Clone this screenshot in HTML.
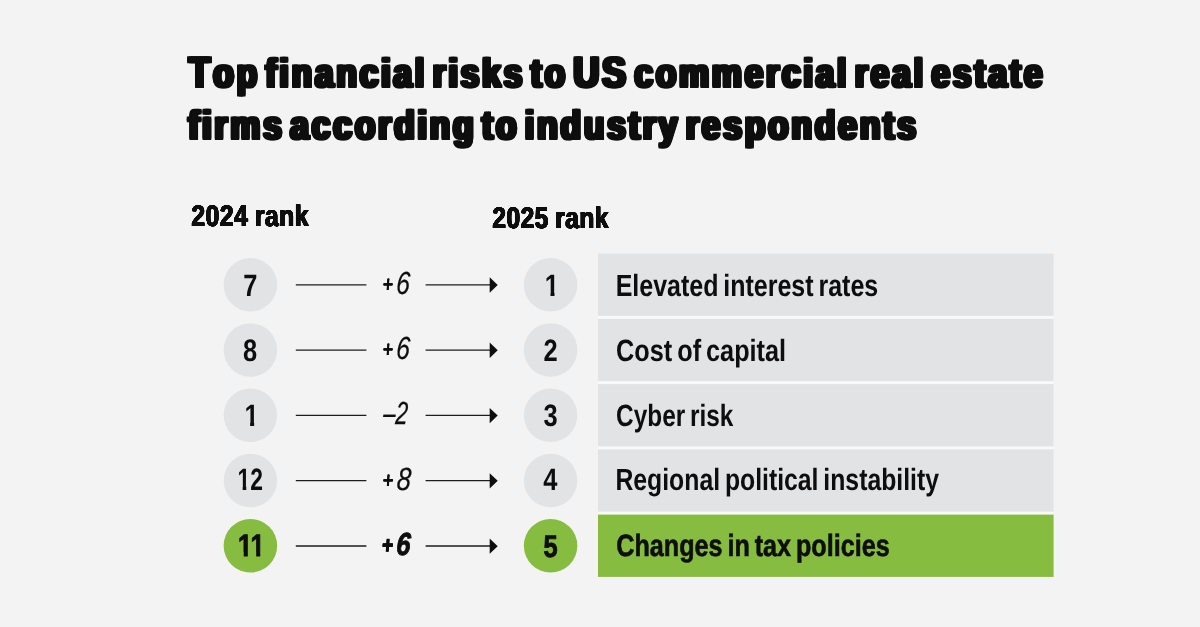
<!DOCTYPE html><html lang="en"><head><meta charset="utf-8"><title>Top financial risks to US commercial real estate firms</title><style>
html,body{margin:0;padding:0;}
body{width:1200px;height:627px;background:#f3f3f3;position:relative;overflow:hidden;font-family:"Liberation Sans",sans-serif;color:#0e0e0e;}
svg{position:absolute;left:0;top:0;}
.t{text-rendering:geometricPrecision;position:absolute;left:0;top:0;white-space:nowrap;line-height:1;transform-origin:0 0;display:block;}
.one{display:inline-block;clip-path:polygon(0 0,100% 0,100% .7em,.381em .7em,.381em 100%,.223em 100%,.223em .7em,0 .7em);}
.cp{font-size:1.065em;}
.pl{display:inline-block;position:relative;text-shadow:.4px 0 0 #111,-.4px 0 0 #111,0 .3px 0 #111,0 -.3px 0 #111;font-size:0.72em;top:-0.085em;margin-right:0.2em;}
.mn{display:inline-block;position:relative;margin-right:0.0em;}
</style></head><body>
<svg width="1200" height="627" viewBox="0 0 1200 627">
<rect x="598.0" y="263.6" width="455.60" height="303.30" fill="#f9f9f9"/>
<rect x="598.0" y="253.60" width="455.60" height="62.3" fill="#e2e3e5"/>
<circle cx="250.4" cy="284.70" r="26.75" fill="#e2e3e5"/>
<circle cx="550.6" cy="284.70" r="26.75" fill="#e2e3e5"/>
<path d="M295.8 284.85H366.4M425.6 284.85H490.7" stroke="#1e1e1e" stroke-width="1.4" fill="none"/>
<path d="M489.7 277.35L497.7 285.05L489.7 292.75Z" fill="#0e0e0e"/>
<rect x="598.0" y="318.85" width="455.60" height="62.3" fill="#e2e3e5"/>
<circle cx="250.4" cy="349.97" r="26.75" fill="#e2e3e5"/>
<circle cx="550.6" cy="349.97" r="26.75" fill="#e2e3e5"/>
<path d="M295.8 350.12H366.4M425.6 350.12H490.7" stroke="#1e1e1e" stroke-width="1.4" fill="none"/>
<path d="M489.7 342.62L497.7 350.32L489.7 358.02Z" fill="#0e0e0e"/>
<rect x="598.0" y="384.10" width="455.60" height="62.3" fill="#e2e3e5"/>
<circle cx="250.4" cy="415.24" r="26.75" fill="#e2e3e5"/>
<circle cx="550.6" cy="415.24" r="26.75" fill="#e2e3e5"/>
<path d="M295.8 415.39H366.4M425.6 415.39H490.7" stroke="#1e1e1e" stroke-width="1.4" fill="none"/>
<path d="M489.7 407.89L497.7 415.59L489.7 423.29Z" fill="#0e0e0e"/>
<rect x="598.0" y="449.35" width="455.60" height="62.3" fill="#e2e3e5"/>
<circle cx="250.4" cy="480.51" r="26.75" fill="#e2e3e5"/>
<circle cx="550.6" cy="480.51" r="26.75" fill="#e2e3e5"/>
<path d="M295.8 480.66H366.4M425.6 480.66H490.7" stroke="#1e1e1e" stroke-width="1.4" fill="none"/>
<path d="M489.7 473.16L497.7 480.86L489.7 488.56Z" fill="#0e0e0e"/>
<rect x="598.0" y="514.60" width="455.60" height="62.3" fill="#86bc40"/>
<circle cx="250.4" cy="545.78" r="26.75" fill="#86bc40"/>
<circle cx="550.6" cy="545.78" r="26.75" fill="#86bc40"/>
<path d="M295.8 545.93H366.4M425.6 545.93H490.7" stroke="#1e1e1e" stroke-width="1.4" fill="none"/>
<path d="M489.7 538.43L497.7 546.13L489.7 553.83Z" fill="#0e0e0e"/>
</svg>
<div class="t" id="t1" style="font-size:40.5px;font-weight:700;transform:translate(188.56px,52px) scaleX(0.8294);letter-spacing:3.4px;text-shadow:2.30px 0.80px 0 #0e0e0e,2.30px 0.00px 0 #0e0e0e,2.30px -0.80px 0 #0e0e0e,0.00px 0.80px 0 #0e0e0e,0.00px -0.80px 0 #0e0e0e,-2.30px 0.80px 0 #0e0e0e,-2.30px 0.00px 0 #0e0e0e,-2.30px -0.80px 0 #0e0e0e,1.15px 0.40px 0 #0e0e0e,1.15px 0.00px 0 #0e0e0e,1.15px -0.40px 0 #0e0e0e,0.00px 0.40px 0 #0e0e0e,0.00px -0.40px 0 #0e0e0e,-1.15px 0.40px 0 #0e0e0e,-1.15px 0.00px 0 #0e0e0e,-1.15px -0.40px 0 #0e0e0e;word-spacing:-8px;"><span class="cp">T</span>op financial risks to <span class="cp">US</span> commercial real estate</div>
<div class="t" id="t2" style="font-size:40.5px;font-weight:700;transform:translate(188.23px,105px) scaleX(0.8309);letter-spacing:3.4px;text-shadow:2.30px 0.80px 0 #0e0e0e,2.30px 0.00px 0 #0e0e0e,2.30px -0.80px 0 #0e0e0e,0.00px 0.80px 0 #0e0e0e,0.00px -0.80px 0 #0e0e0e,-2.30px 0.80px 0 #0e0e0e,-2.30px 0.00px 0 #0e0e0e,-2.30px -0.80px 0 #0e0e0e,1.15px 0.40px 0 #0e0e0e,1.15px 0.00px 0 #0e0e0e,1.15px -0.40px 0 #0e0e0e,0.00px 0.40px 0 #0e0e0e,0.00px -0.40px 0 #0e0e0e,-1.15px 0.40px 0 #0e0e0e,-1.15px 0.00px 0 #0e0e0e,-1.15px -0.40px 0 #0e0e0e;word-spacing:-8px;">firms according to industry respondents</div>
<div class="t" id="h1" style="font-size:29.8px;font-weight:700;transform:translate(191.34px,202px) scaleX(0.8289);letter-spacing:0.6px;text-shadow:0.50px 0.20px 0 #0e0e0e,0.50px 0.00px 0 #0e0e0e,0.50px -0.20px 0 #0e0e0e,0.00px 0.20px 0 #0e0e0e,0.00px -0.20px 0 #0e0e0e,-0.50px 0.20px 0 #0e0e0e,-0.50px 0.00px 0 #0e0e0e,-0.50px -0.20px 0 #0e0e0e,0.25px 0.10px 0 #0e0e0e,0.25px 0.00px 0 #0e0e0e,0.25px -0.10px 0 #0e0e0e,0.00px 0.10px 0 #0e0e0e,0.00px -0.10px 0 #0e0e0e,-0.25px 0.10px 0 #0e0e0e,-0.25px 0.00px 0 #0e0e0e,-0.25px -0.10px 0 #0e0e0e;word-spacing:-1px;">2024 rank</div>
<div class="t" id="h2" style="font-size:29.8px;font-weight:700;transform:translate(492.37px,204px) scaleX(0.8214);letter-spacing:0.6px;text-shadow:0.50px 0.20px 0 #0e0e0e,0.50px 0.00px 0 #0e0e0e,0.50px -0.20px 0 #0e0e0e,0.00px 0.20px 0 #0e0e0e,0.00px -0.20px 0 #0e0e0e,-0.50px 0.20px 0 #0e0e0e,-0.50px 0.00px 0 #0e0e0e,-0.50px -0.20px 0 #0e0e0e,0.25px 0.10px 0 #0e0e0e,0.25px 0.00px 0 #0e0e0e,0.25px -0.10px 0 #0e0e0e,0.00px 0.10px 0 #0e0e0e,0.00px -0.10px 0 #0e0e0e,-0.25px 0.10px 0 #0e0e0e,-0.25px 0.00px 0 #0e0e0e,-0.25px -0.10px 0 #0e0e0e;word-spacing:-1px;">2025 rank</div>
<div class="t" id="a0" style="font-size:31px;font-weight:700;transform:translate(243.15px,270px) scaleX(0.8200);">7</div>
<div class="t" id="d0" style="font-size:32px;font-weight:400;transform:translate(383.79px,267px) scaleX(0.7610) skewX(-5deg);font-style:italic;-webkit-text-stroke:0.3px #0e0e0e;"><span class="pl">+</span>6</div>
<div class="t" id="b0" style="font-size:31px;font-weight:700;transform:translate(544.82px,270px) scaleX(0.8200);"><span class="one">1</span></div>
<div class="t" id="l0" style="font-size:30.7px;font-weight:700;transform:translate(615.63px,271px) scaleX(0.8143);word-spacing:-2.5px;">Elevated interest rates</div>
<div class="t" id="a1" style="font-size:31px;font-weight:700;transform:translate(243.07px,335px) scaleX(0.8200);">8</div>
<div class="t" id="d1" style="font-size:32px;font-weight:400;transform:translate(383.79px,332px) scaleX(0.7610) skewX(-5deg);font-style:italic;-webkit-text-stroke:0.3px #0e0e0e;"><span class="pl">+</span>6</div>
<div class="t" id="b1" style="font-size:31px;font-weight:700;transform:translate(543.42px,335px) scaleX(0.8200);">2</div>
<div class="t" id="l1" style="font-size:30.7px;font-weight:700;transform:translate(616.10px,336px) scaleX(0.8235);word-spacing:-2.5px;">Cost of capital</div>
<div class="t" id="a2" style="font-size:31px;font-weight:700;transform:translate(244.46px,400px) scaleX(0.8200);"><span class="one">1</span></div>
<div class="t" id="d2" style="font-size:32px;font-weight:400;transform:translate(384.39px,397px) scaleX(0.6909) skewX(-5deg);font-style:italic;-webkit-text-stroke:0.3px #0e0e0e;"><span class="mn">–</span>2</div>
<div class="t" id="b2" style="font-size:31px;font-weight:700;transform:translate(543.61px,400px) scaleX(0.8200);">3</div>
<div class="t" id="l2" style="font-size:30.7px;font-weight:700;transform:translate(616.09px,401px) scaleX(0.7948);word-spacing:-2.5px;">Cyber risk</div>
<div class="t" id="a3" style="font-size:31px;font-weight:700;transform:translate(237.56px,464px) scaleX(0.7368);"><span class="one">1</span>2</div>
<div class="t" id="d3" style="font-size:32px;font-weight:400;transform:translate(383.84px,463px) scaleX(0.7944) skewX(-5deg);font-style:italic;-webkit-text-stroke:0.3px #0e0e0e;"><span class="pl">+</span>8</div>
<div class="t" id="b3" style="font-size:31px;font-weight:700;transform:translate(543.36px,464px) scaleX(0.8200);">4</div>
<div class="t" id="l3" style="font-size:30.7px;font-weight:700;transform:translate(615.44px,465px) scaleX(0.8072);word-spacing:-2.5px;">Regional political instability</div>
<div class="t" id="a4" style="font-size:31px;font-weight:700;transform:translate(238.12px,530px) scaleX(0.8169);-webkit-text-stroke:0.9px #0e0e0e;letter-spacing:-2.0px;"><span class="one">1</span><span class="one">1</span></div>
<div class="t" id="d4" style="font-size:32px;font-weight:700;transform:translate(383.09px,528px) scaleX(0.7918) skewX(-5deg);font-style:italic;-webkit-text-stroke:1.0px #0e0e0e;"><span class="pl" style="font-size:.74em;margin-right:.19em;top:-.095em;text-shadow:.5px 0 0 #111,-.5px 0 0 #111,0 .4px 0 #111,0 -.4px 0 #111">+</span>6</div>
<div class="t" id="b4" style="font-size:31px;font-weight:700;transform:translate(543.43px,531px) scaleX(0.8200);-webkit-text-stroke:0.9px #0e0e0e;">5</div>
<div class="t" id="l4" style="font-size:30.7px;font-weight:700;transform:translate(616.29px,531px) scaleX(0.8194);-webkit-text-stroke:0.6px #0e0e0e;word-spacing:-2.5px;">Changes in tax policies</div>
</body></html>
